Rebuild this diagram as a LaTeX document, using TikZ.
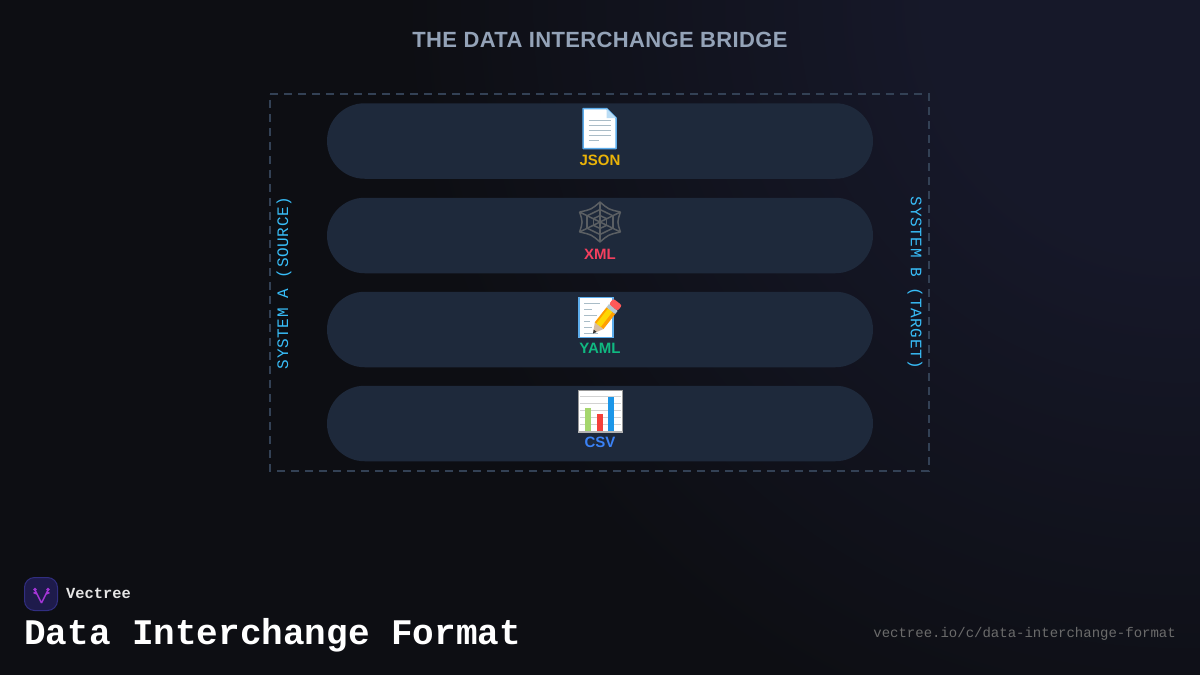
\documentclass[tikz,border=0pt]{standalone}
\usepackage{fontspec}
\setmainfont{Liberation Sans}
\setmonofont{Liberation Mono}
\newfontfamily\sidefont[LetterSpace=4.1]{Liberation Mono}
\newfontfamily\titlefont[LetterSpace=1.6]{Liberation Sans}
\definecolor{bgbase}{HTML}{0D0E13}
\definecolor{bgglow}{HTML}{161829}
\definecolor{pillfill}{HTML}{1E293B}
\definecolor{framecol}{HTML}{334155}
\definecolor{titlecol}{HTML}{94A3B8}
\definecolor{sidecol}{HTML}{38BDF8}
\definecolor{jsoncol}{HTML}{EAB308}
\definecolor{xmlcol}{HTML}{F43F5E}
\definecolor{yamlcol}{HTML}{10B981}
\definecolor{csvcol}{HTML}{3B82F6}
\definecolor{webcol}{HTML}{5B5F63}
\definecolor{pageedge}{HTML}{5DADEC}
\definecolor{foldcol}{HTML}{BBDDF5}
\definecolor{pageline}{HTML}{A9BCC7}
\definecolor{logofill}{HTML}{1E1B4B}
\definecolor{logoedge}{HTML}{312E81}
\definecolor{logomark}{HTML}{A335D6}
\definecolor{bargreen}{HTML}{A5D66D}
\definecolor{barred}{HTML}{F4403A}
\definecolor{barblue}{HTML}{1C96E8}
\pgfdeclareradialshading{glowshade}{\pgfpoint{0bp}{0bp}}{color(0bp)=(bgglow); color(8bp)=(bgglow); color(25bp)=(bgbase); color(50bp)=(bgbase)}
\tikzset{
  pill/.style={fill=pillfill,minimum width=546pt,minimum height=75.5pt,rounded corners=37.7pt,inner sep=0pt},
  tag/.style={font=\fontsize{15}{15}\selectfont\bfseries,inner sep=0pt},
  sidelabel/.style={font=\fontsize{16}{16}\sidefont,text=sidecol,inner sep=0pt},
  pageline/.style={draw=pageline,line width=1pt},
}
\begin{document}
\begin{tikzpicture}[x=1pt,y=-1pt]
\useasboundingbox (0,0) rectangle (1200,675);
\fill[bgbase] (0,0) rectangle (1200,675);
\begin{scope}
\clip (0,0) rectangle (1200,675);
\shade[shading=glowshade] (1180,0) circle (780);
\end{scope}
\node[anchor=base,font=\fontsize{22}{22}\titlefont\bfseries,text=titlecol,inner sep=0pt] (title) at (600,47) {THE DATA INTERCHANGE BRIDGE};
\draw[framecol,line width=2pt,dash pattern=on 8pt off 6pt] (270,94) -- (929,94) -- (929,471) -- (270,471) -- cycle;
\foreach \name/\y/\col/\lab in {json/141/jsoncol/JSON,xml/235.5/xmlcol/XML,yaml/329.5/yamlcol/YAML,csv/423.5/csvcol/CSV}
{
\node[pill] (\name) at (600,\y) {};
\node[tag,text=\col] (\name label) at (600,\y+19) {\lab};
}
\node[sidelabel,rotate=90] (source) at (284,283) {SYSTEM A (SOURCE)};
\node[sidelabel,rotate=-90] (target) at (915,283) {SYSTEM B (TARGET)};
% document icon
\draw[pageedge,fill=white,line width=1.5pt,line join=round] (583,108.5) -- (606.5,108.5) -- (616,118) -- (616,148.5) -- (583,148.5) -- cycle;
\fill[foldcol] (606.5,108.5) -- (616,118) -- (606.5,118) -- cycle;
\foreach \y in {120,125,130,135}
\draw[pageline] (588.5,\y) -- (611,\y);
\draw[pageline] (588.5,140) -- (598.5,140);
% web icon
\begin{scope}[shift={(600,222)},xscale=1.18]
\foreach \a in {30,90,...,330}
\draw[webcol,line width=1.5pt] (0,0) -- (\a:20);
\foreach \r/\m in {20/14.5,12.5/10,6.5/5.5}
\foreach \a in {30,90,...,330}
\draw[webcol,line width=1.5pt] (\a:\r) .. controls (\a+30:\m) .. (\a+60:\r);
\end{scope}
% memo icon
\draw[pageedge,fill=white,line width=1.5pt] (579,297.5) rectangle (613,337.5);
\foreach \y/\e in {303/600,309/592,315/597,321/590,327/592,333/598}
\draw[pageline,line width=0.8pt] (584,\y) -- (\e,\y);
\begin{scope}[shift={(593,333.5)},rotate=52]
\fill[black!20!white!80!orange] (0,0) -- (10,-5.5) -- (10,5.5) -- cycle;
\fill[black!80] (0,0) -- (3.5,-1.9) -- (3.5,1.9) -- cycle;
\fill[orange!75!yellow] (10,-5.5) rectangle (29,5.5);
\fill[yellow!75!orange] (10,-3.5) rectangle (29,2);
\fill[cyan!25!gray!55!white] (29,-5.5) rectangle (33,5.5);
\fill[red!65!white,rounded corners=2pt] (33,-5.5) rectangle (40,5.5);
\end{scope}
% chart icon
\fill[white] (579,390) rectangle (622,432);
\foreach \y in {396,403,410,417,424}
\draw[gray!35,line width=0.9pt] (580,\y) -- (621,\y);
\draw[gray!80,line width=1.3pt] (578.7,432) -- (578.7,390.7) -- (622.3,390.7) -- (622.3,432);
\fill[gray!60] (578,431) rectangle (623,432.5);
\fill[bargreen] (585,408) rectangle (591,431);
\fill[barred] (596.7,414) rectangle (602.7,431);
\fill[barblue] (608.3,397) rectangle (614.3,431);
% logo
\node[draw=logoedge,fill=logofill,line width=1pt,rounded corners=10pt,minimum size=33pt,inner sep=0pt] (logo) at (41,594) {};
\draw[logomark,line width=1.5pt] (41.5,603) -- (35,590) (41.5,603) -- (48,590) (37,594) -- (33.5,592.5) (46,594) -- (49.5,592.5);
\fill[logomark] (35,589.5) circle (1.9) (48,589.5) circle (1.9);
\node[anchor=west,font=\fontsize{15.4}{16}\ttfamily\bfseries,text=white!90!black,inner sep=0pt] (brand) at (66,593) {Vectree};
\node[anchor=base west,font=\fontsize{36}{36}\ttfamily\bfseries,text=white,inner sep=0pt] (heading) at (24,644) {Data Interchange Format};
\node[anchor=base east,font=\fontsize{14}{14}\ttfamily,text=white!42!black,inner sep=0pt] (url) at (1176,637) {vectree.io/c/data-interchange-format};
\end{tikzpicture}
\end{document}
